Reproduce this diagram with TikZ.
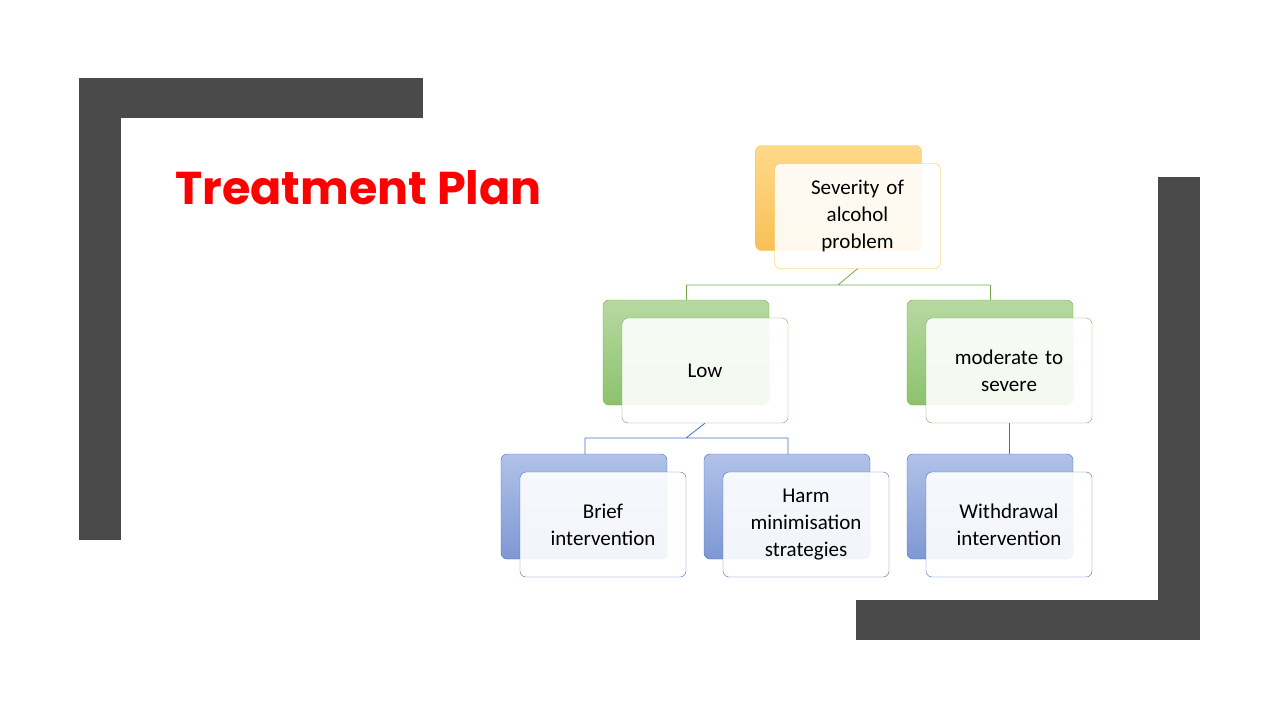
\documentclass[tikz,border=0pt]{standalone}
\usepackage{fontspec}
\setmainfont{Carlito}
\newfontfamily\titlefont{Poppins Bold}
\begin{document}
\begin{tikzpicture}[x=1pt,y=-1pt,
  bar/.style={fill=barc,draw=none},
  backbox/.style={rounded corners=6pt,minimum width=166pt,minimum height=105pt,inner sep=0pt},
  frontbox/.style={rounded corners=6pt,minimum width=166pt,minimum height=105pt,fill=white,fill opacity=0.9,text opacity=1,align=center,font=\fontsize{21}{27}\selectfont,text width=150pt,inner sep=0pt},
  conn/.style={line width=0.8pt}]
\definecolor{barc}{HTML}{4A4A4A}
\definecolor{orA}{HTML}{FFD98A}\definecolor{orB}{HTML}{F8C055}\definecolor{orL}{HTML}{F2C744}
\definecolor{grA}{HTML}{B7D9A2}\definecolor{grB}{HTML}{8DC26C}\definecolor{grL}{HTML}{70AD47}
\definecolor{blA}{HTML}{B0C2E8}\definecolor{blB}{HTML}{7E98D4}\definecolor{blL}{HTML}{4472C4}
\useasboundingbox (0,0) rectangle (1280,720);
\fill[bar] (79,78) rectangle (423,118);
\fill[bar] (79,78) rectangle (121,540);
\fill[bar] (1158,177) rectangle (1200,640);
\fill[bar] (856,600) rectangle (1200,640);
\node[anchor=west,text=red,font=\titlefont\fontsize{46}{50}\selectfont] (title) at (172,188) {Treatment Plan};
% connectors
\coordinate (j1) at (838,285);\coordinate (j2) at (686,285);\coordinate (j3) at (990,285);
\coordinate (k1) at (686,438);\coordinate (k2) at (585,438);\coordinate (k3) at (788,438);
% boxes
\newcommand\pair[7]{%
 \node[backbox,draw=#6,top color=#4,bottom color=#5] (#1b) at (#2,#3) {};
 \node[frontbox,draw=#6] (#1) at (#2+19,#3+18) {#7};}
\pair{top}{838.5}{198}{orA}{orB}{orL}{Severity of\\alcohol\\problem}
\draw[conn,grL] (top.south) -- (j1) (j2) -- (j3);
\draw[conn,grL] (j2) -- ++(0,15);
\draw[conn,grL] (j3) -- ++(0,15);
\pair{low}{686}{352.5}{grA}{grB}{grL}{Low}
\pair{mod}{990}{352.5}{grA}{grB}{grL}{moderate to\\severe}
\draw[conn,blL] (low.south) -- (k1) (k2) -- (k3) (k2) -- ++(0,16) (k3) -- ++(0,16);
\draw[conn,blL] (mod.south) -- ++(0,31);
\pair{bri}{584}{506.5}{blA}{blB}{blL}{Brief\\intervention}
\pair{harm}{787}{506.5}{blA}{blB}{blL}{Harm\\minimisation\\strategies}
\pair{wd}{990}{506.5}{blA}{blB}{blL}{Withdrawal\\intervention}
\end{tikzpicture}
\end{document}
